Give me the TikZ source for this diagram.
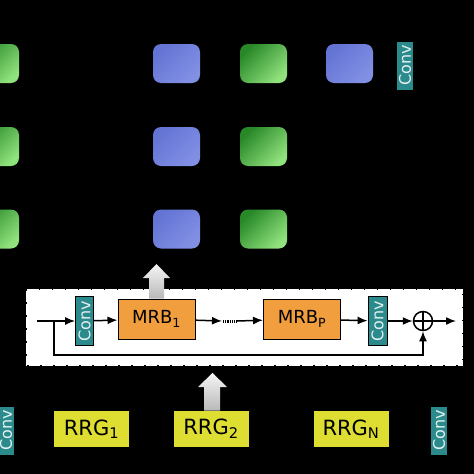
\documentclass[tikz,border=0pt]{standalone}
\usepackage{fontspec}
\setmainfont{DejaVu Sans}
\usetikzlibrary{arrows.meta, positioning}

\definecolor{convteal}{RGB}{42,138,140}
\definecolor{mrborange}{RGB}{240,158,62}
\definecolor{rrgyellow}{RGB}{222,222,50}
\definecolor{tileblue}{RGB}{100,116,212}
\definecolor{tilebluelt}{RGB}{130,144,228}
\definecolor{tilegreen}{RGB}{40,136,40}
\definecolor{tilegreenlt}{RGB}{144,226,124}

\begin{document}
\begin{tikzpicture}[
  x=1pt, y=-1pt,
  tile/.style={rounded corners=8pt, minimum width=47pt, minimum height=39pt,
               inner sep=0pt},
  bluetile/.style={tile, top color=tileblue, bottom color=tilebluelt, shading angle=45},
  greentile/.style={tile, top color=tilegreen, bottom color=tilegreenlt, shading angle=45},
  conv/.style={draw=black, line width=0.8pt, fill=convteal, text=white!88!convteal,
               rotate=90, minimum width=49pt, minimum height=17pt, inner sep=0pt,
               font=\fontsize{16}{16}\selectfont},
  mrb/.style={draw=black, line width=1pt, fill=mrborange, minimum width=77pt,
              minimum height=40pt, inner sep=0pt, font=\fontsize{18}{18}\selectfont},
  rrg/.style={fill=rrgyellow, minimum width=75pt, minimum height=36pt,
              inner sep=0pt, font=\fontsize{21}{21}\selectfont},
  arr/.style={-{Latex[length=10pt, width=8pt]}, line width=1.5pt},
  uparrow/.style={top color=gray!8, bottom color=gray!55}
]
  \fill[black] (0,0) rectangle (474,474);
  \useasboundingbox (0,0) rectangle (474,474);

  % tiles
  \foreach \row/\y in {1/63.5, 2/146.5, 3/229} {
    \node[greentile] (g0\row) at (-4.5,\y) {};
    \node[bluetile]  (b1\row) at (176.5,\y) {};
    \node[greentile] (g1\row) at (263.5,\y) {};
  }
  \node[bluetile] (b21) at (349.5,63.5) {};
  \node[conv] (convtop) at (405,65.5) {Conv};

  % group frame
  \fill[white] (26,289) rectangle (463,366);
  \draw[black, line width=1.2pt, dash pattern=on 1.5pt off 11.5pt] (26,289) rectangle (463,366);

  \node[conv, minimum height=18pt] (conv1) at (84.5,321) {Conv};
  \node[mrb] (mrb1) at (156.5,319) {MRB\textsubscript{1}};
  \node[mrb] (mrbp) at (302,319) {MRB\textsubscript{P}};
  \node[conv, minimum height=19pt] (conv2) at (377.5,321) {Conv};
  \node[circle, draw=black, line width=1.5pt, minimum size=19pt, inner sep=0pt,
        path picture={\draw[line width=1.5pt]
          (path picture bounding box.north) -- (path picture bounding box.south)
          (path picture bounding box.west) -- (path picture bounding box.east);}]
        (sum) at (423,321) {};

  \coordinate (in) at (37,321);
  \coordinate (split) at (54,321);
  \coordinate (dotsl) at (222,321);
  \coordinate (dotsr) at (237,321);
  \coordinate (out) at (456,321);

  \draw[arr] (in) -- (conv1);
  \draw[arr] (conv1) -- (mrb1);
  \draw[arr] (mrb1) -- (dotsl);
  \draw[line width=3pt, dash pattern=on 1.2pt off 1pt] (dotsl) ++(1,0) -- (dotsr);
  \draw[arr] (dotsr) -- (mrbp);
  \draw[arr] (mrbp) -- (conv2);
  \draw[arr] (conv2) -- (sum);
  \draw[arr] (sum) -- (out);
  \draw[arr] (split) -- ++(0,34) -| (sum.south);

  % residual groups
  \node[conv] (convl) at (6,430.5) {Conv};
  \node[rrg] (rrg1) at (91.5,429) {RRG\textsubscript{1}};
  \node[rrg] (rrg2) at (211,429) {RRG\textsubscript{2}};
  \node[rrg] (rrgn) at (351,429) {RRG\textsubscript{N}};
  \node[conv] (convr) at (439,430.5) {Conv};

  % zoom arrows
  \shade[uparrow] (149,298.5) -- (149,278) -- (143,278) -- (156.5,264)
    -- (170,278) -- (164,278) -- (164,298.5) -- cycle;
  \shade[uparrow] (204,410.5) -- (204,387) -- (198,387) -- (212.5,373)
    -- (227,387) -- (220,387) -- (220,410.5) -- cycle;
\end{tikzpicture}
\end{document}
